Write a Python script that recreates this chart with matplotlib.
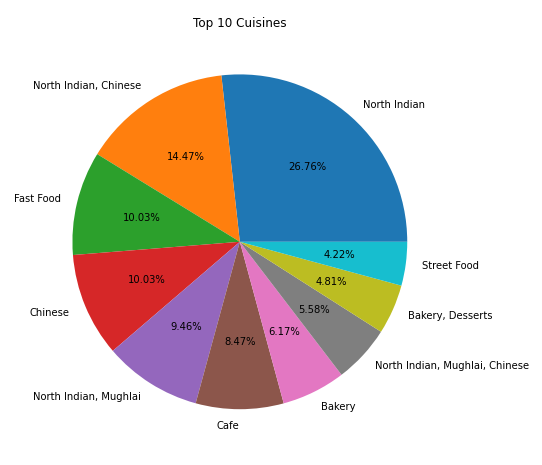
import matplotlib
matplotlib.use("Agg")
import matplotlib.pyplot as plt

cuisines = ["North Indian", "North Indian, Chinese", "Fast Food", "Chinese",
            "North Indian, Mughlai", "Cafe", "Bakery",
            "North Indian, Mughlai, Chinese", "Bakery, Desserts", "Street Food"]
shares = [26.76, 14.47, 10.03, 10.03, 9.46, 8.47, 6.17, 5.58, 4.81, 4.22]

fig = plt.figure(figsize=(542 / 72, 465 / 72), dpi=72)
ax = fig.add_axes([0.055, 0.03, 0.775, 0.9])
ax.pie(shares, labels=cuisines, autopct="%1.2f%%")
ax.set_title("Top 10 Cuisines")
fig.savefig("out.png", dpi=72)
